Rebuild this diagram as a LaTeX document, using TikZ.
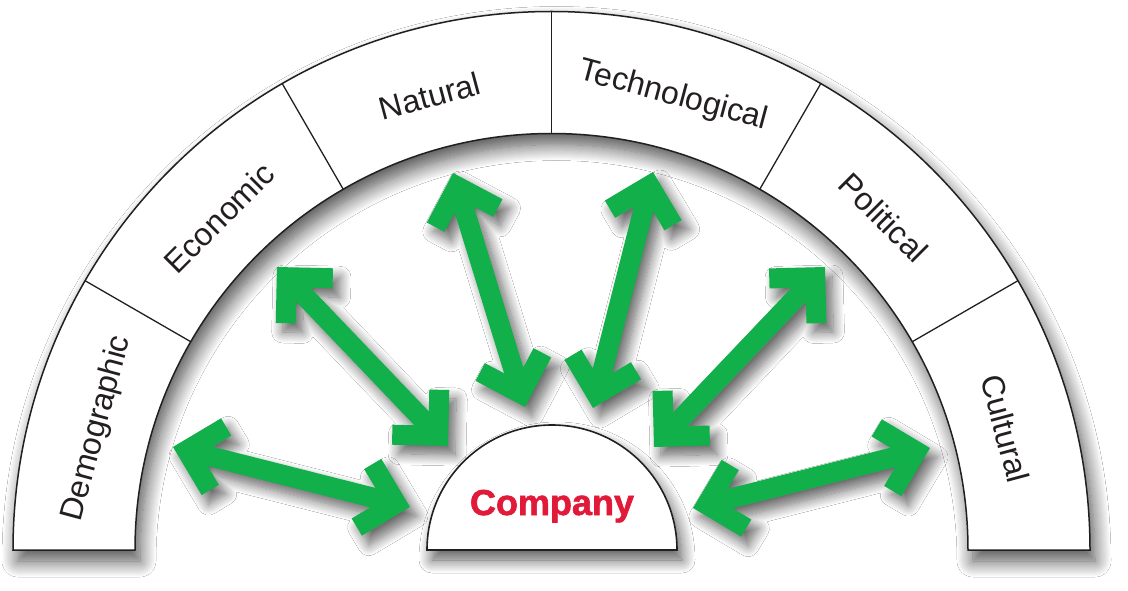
\documentclass[tikz,border=0pt]{standalone}
\usepackage{fontspec}
\setmainfont{Liberation Sans}
\newfontfamily\heavyfont[FakeBold=1.6]{Liberation Sans Bold}
\usetikzlibrary{calc,shadows.blur}
\definecolor{arrgreen}{RGB}{18,176,75}
\definecolor{compred}{RGB}{226,26,58}
\definecolor{inkblack}{RGB}{35,31,32}
\newdimen\arAx \newdimen\arAy \newdimen\arBx \newdimen\arBy
\tikzset{
  archstyle/.style={fill=white, draw=inkblack, line width=1.5pt, line join=miter,
    blur shadow={shadow xshift=5pt, shadow yshift=-11pt, shadow blur radius=16pt, shadow opacity=70, shadow blur steps=16}},
  divider/.style={draw=inkblack, line width=1.3pt},
  lbl/.style={font=\fontsize{32}{38}\selectfont, text=inkblack, inner sep=0pt},
  arrshadow/.style={blur shadow={shadow xshift=0pt, shadow yshift=0pt, shadow blur radius=11pt, shadow opacity=60, shadow blur steps=14}},
  arrbody/.style={fill=arrgreen},
  compshape/.style={fill=white, draw=inkblack, line width=1.6pt,
    blur shadow={shadow xshift=5pt, shadow yshift=-10pt, shadow blur radius=13pt, shadow opacity=65, shadow blur steps=14}},
  complabel/.style={font=\fontsize{36}{40}\selectfont\heavyfont, text=compred, inner sep=0pt}
}
\newcommand\dblarrow[2]{%
  \pgfextractx{\arAx}{\pgfpointanchor{#1}{center}}%
  \pgfextracty{\arAy}{\pgfpointanchor{#1}{center}}%
  \pgfextractx{\arBx}{\pgfpointanchor{#2}{center}}%
  \pgfextracty{\arBy}{\pgfpointanchor{#2}{center}}%
  \pgfmathsetmacro\arAng{atan2(\arBy-\arAy,\arBx-\arAx)}%
  \pgfmathsetmacro\arLen{veclen(\arBx-\arAx,\arBy-\arAy)}%
  % L=56, t=20, w=10 : D=t*sqrt2+w=38.28 ; L/sqrt2=39.60 ; t/sqrt2=14.14
  \pgfmathsetmacro\arLa{\arLen-38.28}%
  \pgfmathsetmacro\arLb{\arLen-53.74}%
  \pgfmathsetmacro\arLc{\arLen-39.60}%
  \def\arPoly{(0pt,0pt) -- (39.60pt,39.60pt) -- (53.74pt,25.46pt) -- (38.28pt,10pt) -- (\arLa pt,10pt) -- (\arLb pt,25.46pt) -- (\arLc pt,39.60pt) -- (\arLen pt,0pt) -- (\arLc pt,-39.60pt) -- (\arLb pt,-25.46pt) -- (\arLa pt,-10pt) -- (38.28pt,-10pt) -- (53.74pt,-25.46pt) -- (39.60pt,-39.60pt) -- cycle}%
  \path[arrshadow, shift={({\arAx+7pt},{\arAy-9pt})}, rotate=\arAng] \arPoly;%
  \fill[arrbody, shift={(\arAx,\arAy)}, rotate=\arAng] \arPoly;%
}
\begin{document}
\begin{tikzpicture}[x=1pt,y=1pt]
\useasboundingbox (0,0) rectangle (1128,590);
\fill[white] (0,0) rectangle (1128,590);
\coordinate (C) at (551.5,40);
% arch
\filldraw[archstyle] (13,40) arc[start angle=180, end angle=0, radius=538.5] -- (968,40) arc[start angle=0, end angle=180, radius=416.5] -- cycle;
\foreach \a in {30,60,90,120,150}
  \draw[divider] ($(C)+(\a:416.5)$) -- ($(C)+(\a:538.5)$);
% labels
\node[lbl, rotate=75]  (demo) at ($(C)+(165:470)$) {Demographic};
\node[lbl, rotate=45]  (econ) at ($(C)+(135:470)$) {Economic};
\node[lbl, rotate=15]  (natu) at ($(C)+(105:470)$) {Natural};
\node[lbl, rotate=-15] (tech) at ($(C)+(75:470)$) {Technological};
\node[lbl, rotate=-45] (poli) at ($(C)+(45:470)$) {Political};
\node[lbl, rotate=-75] (cult) at ($(C)+(15:470)$) {Cultural};
% company
\filldraw[compshape] (427,40) arc[start angle=180, end angle=0, radius=125] -- cycle;
\node[complabel, anchor=base] (company) at (552,75) {Company};
% arrow ends
\coordinate (a1o) at (173,143); \coordinate (a1i) at (410,83);
\coordinate (a2o) at (277,323); \coordinate (a2i) at (448,144);
\coordinate (a3o) at (453,417); \coordinate (a3i) at (525,183);
\coordinate (a4o) at (653,418); \coordinate (a4i) at (593,182);
\coordinate (a5o) at (825,323); \coordinate (a5i) at (654,143);
\coordinate (a6o) at (930,142); \coordinate (a6i) at (693,82);
\dblarrow{a1o}{a1i}
\dblarrow{a2o}{a2i}
\dblarrow{a3o}{a3i}
\dblarrow{a4o}{a4i}
\dblarrow{a5o}{a5i}
\dblarrow{a6o}{a6i}
\end{tikzpicture}
\end{document}
